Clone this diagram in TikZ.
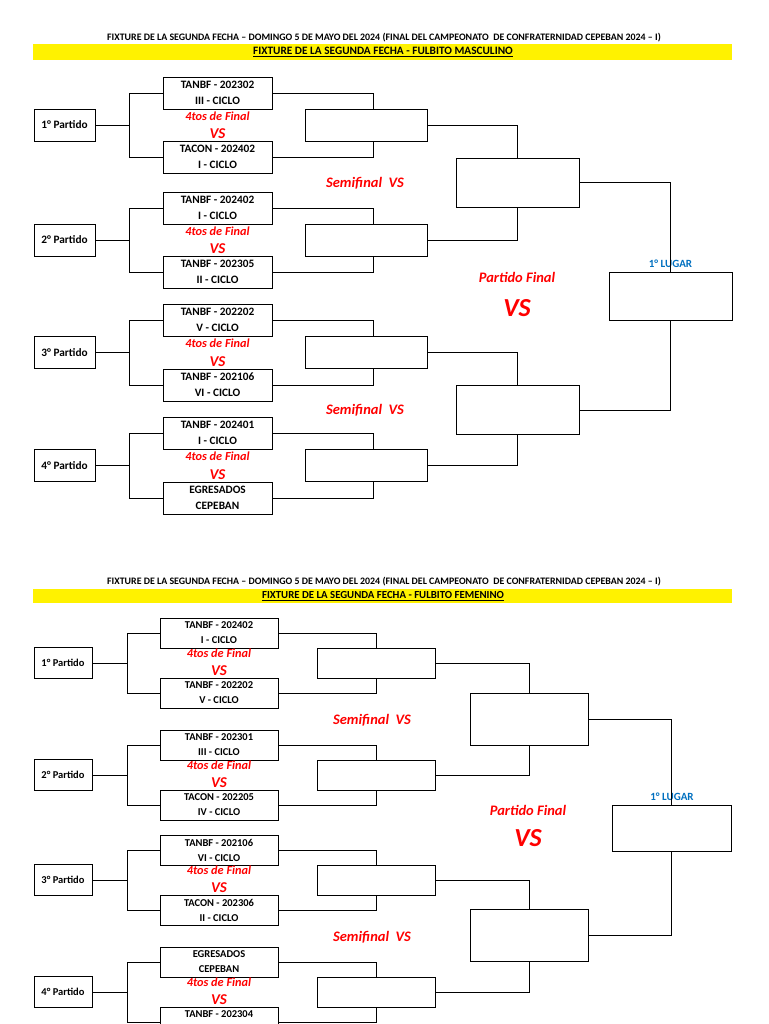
\documentclass[tikz,border=0pt]{standalone}
\usepackage{fontspec}
\setmainfont{Carlito}
\begin{document}
\begin{tikzpicture}[x=1pt,y=-1pt,
  box/.style={draw,line width=0.8pt,inner sep=0pt,font=\bfseries\fontsize{11.3}{16}\selectfont,align=center},
  red/.style={text=red,font=\bfseries\itshape\fontsize{12.3}{13}\selectfont},
  redvs/.style={text=red,font=\bfseries\itshape\fontsize{15}{15}\selectfont},
  big/.style={text=red,font=\bfseries\itshape\fontsize{14.5}{15}\selectfont},
  ln/.style={line width=0.8pt}]
\useasboundingbox (0,0) rectangle (768,1024);
\fill[white] (0,0) rectangle (768,1024);
\newcommand\mbrk[6]{%
  \pgfmathsetmacro\ya{#3+\th/2}\pgfmathsetmacro\yb{#4+\th/2}\pgfmathsetmacro\ym{(#3+#4+\th)/2}
  \node[box,minimum width=\pw,minimum height=\ph] (p#1) at (\pxc,\ym) {#2};
  \node[box,minimum width=\tw,minimum height=\th] (ta#1) at (\txc,\ya) {#5};
  \node[box,minimum width=\tw,minimum height=\th] (tb#1) at (\txc,\yb) {#6};
  \node[box,minimum width=\qw,minimum height=\qh] (q#1) at (\qxc,\ym) {};
  \node[red] (f#1) at (\txc,{\ym-9+\fo}) {4tos de Final};
  \node[redvs] (v#1) at (\txc,{\ym+9+\fo}) {VS};
  \coordinate (j#1) at (\jx,\ym);
  \draw[ln] (p#1.east) -- (j#1) |- (ta#1.west);
  \draw[ln] (j#1) |- (tb#1.west);
  \draw[ln] (ta#1.east) -| (q#1.north -| \qj,0);
  \draw[ln] (tb#1.east) -| (q#1.south -| \qj,0);
}
\newcommand\sfb[4]{%
  \node[box,minimum width=\sw,minimum height=\sh] (s#1) at (\sxc,#2) {};
  \draw[ln] (q#3.east) -| (s#1.north -| \sj,0);
  \draw[ln] (q#4.east) -| (s#1.south -| \sj,0);
}
% ===== TOP SECTION =====
\node[font=\bfseries\fontsize{9.9}{10}\selectfont] (h1) at (384,38) {FIXTURE DE LA SEGUNDA FECHA – DOMINGO 5 DE MAYO DEL 2024 (FINAL DEL CAMPEONATO \ DE CONFRATERNIDAD CEPEBAN 2024 – I)};
\fill[yellow] (33,44) rectangle (732,60);
\node[font=\bfseries\fontsize{11.3}{12}\selectfont] (t1) at (383,52) {\underline{FIXTURE DE LA SEGUNDA FECHA - FULBITO MASCULINO}};
\def\pw{61}\def\ph{32}\def\pxc{64.5}
\def\tw{109}\def\th{32}\def\txc{217.5}
\def\jx{129}\def\qw{122}\def\qh{32}\def\qxc{366}\def\qj{373}\def\fo{0}
\def\sw{123}\def\sh{49}\def\sxc{517.5}\def\sj{517}
\mbrk{A}{1° Partido}{77}{141}{TANBF - 202302\\III - CICLO}{TACON - 202402\\I - CICLO}
\mbrk{B}{2° Partido}{192}{256}{TANBF - 202402\\I - CICLO}{TANBF - 202305\\II - CICLO}
\mbrk{C}{3° Partido}{304}{369}{TANBF - 202202\\V - CICLO}{TANBF - 202106\\VI - CICLO}
\mbrk{D}{4° Partido}{417}{482}{TANBF - 202401\\I - CICLO}{EGRESADOS\\CEPEBAN}
\sfb{A}{182.5}{A}{B}
\sfb{B}{410}{C}{D}
\node[box,minimum width=123,minimum height=48] (w1) at (670.5,296) {};
\node[text={rgb,255:red,0;green,112;blue,192},font=\bfseries\fontsize{11}{12}\selectfont] (l1) at (670.5,264) {1° LUGAR};
\draw[ln] (sA.east) -| (w1.north);
\draw[ln] (sB.east) -| (w1.south);
\node[big] (sv1) at (365,183) {Semifinal \ VS};
\node[big] (sv2) at (365,410) {Semifinal \ VS};
\node[big] (pf1) at (517,277) {Partido Final};
\node[big,font=\bfseries\itshape\fontsize{26}{26}\selectfont] (pv1) at (517,308) {VS};
% ===== BOTTOM SECTION =====
\node[font=\bfseries\fontsize{9.9}{10}\selectfont] (h2) at (384,582) {FIXTURE DE LA SEGUNDA FECHA – DOMINGO 5 DE MAYO DEL 2024 (FINAL DEL CAMPEONATO \ DE CONFRATERNIDAD CEPEBAN 2024 – I)};
\fill[yellow] (33,589) rectangle (732,603);
\node[font=\bfseries\fontsize{10.8}{11}\selectfont] (t2) at (383,596) {\underline{FIXTURE DE LA SEGUNDA FECHA - FULBITO FEMENINO}};
\def\pw{58}\def\ph{31}\def\pxc{63}
\def\tw{118}\def\th{30}\def\txc{219}
\def\jx{127}\def\qw{118}\def\qh{30}\def\qxc{376}\def\qj{376}\def\fo{-1}
\def\sw{118}\def\sh{52}\def\sxc{529}\def\sj{529}
\tikzset{box/.append style={font=\bfseries\fontsize{10.5}{15}\selectfont}}
\mbrk{E}{1° Partido}{618}{678}{TANBF - 202402\\I - CICLO}{TANBF - 202202\\V - CICLO}
\mbrk{F}{2° Partido}{730}{790}{TANBF - 202301\\III - CICLO}{TACON - 202205\\IV - CICLO}
\mbrk{G}{3° Partido}{835}{895}{TANBF - 202106\\VI - CICLO}{TACON - 202306\\II - CICLO}
\mbrk{H}{4° Partido}{947}{1007}{EGRESADOS\\CEPEBAN}{TANBF - 202304\\}
\sfb{C}{719}{E}{F}
\sfb{D}{935}{G}{H}
\node[box,minimum width=119,minimum height=46] (w2) at (671.5,828) {};
\node[text={rgb,255:red,0;green,112;blue,192},font=\bfseries\fontsize{11}{12}\selectfont] (l2) at (672,797) {1° LUGAR};
\draw[ln] (sC.east) -| (w2.north);
\draw[ln] (sD.east) -| (w2.south);
\node[big] (sv3) at (372,720) {Semifinal \ VS};
\node[big] (sv4) at (372,937) {Semifinal \ VS};
\node[big] (pf2) at (528,810) {Partido Final};
\node[big,font=\bfseries\itshape\fontsize{26}{26}\selectfont] (pv2) at (528,838) {VS};
\end{tikzpicture}
\end{document}
